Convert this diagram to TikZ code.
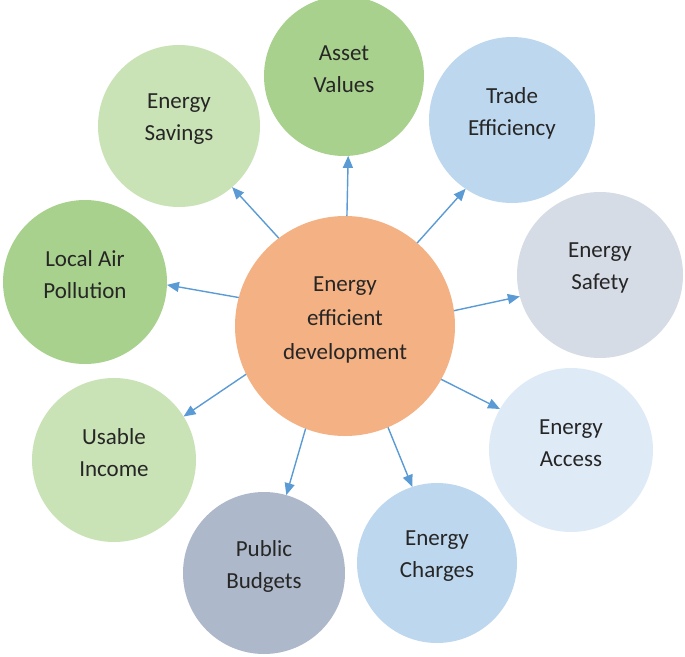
\documentclass[tikz,border=0pt]{standalone}
\usepackage{fontspec}
\setmainfont{Carlito}
\usetikzlibrary{arrows.meta}
\definecolor{cCenter}{HTML}{F4B183}
\definecolor{cGreen}{HTML}{A9D18E}
\definecolor{cLGreen}{HTML}{C9E2B6}
\definecolor{cBlue}{HTML}{BDD7EE}
\definecolor{cLBlue}{HTML}{DEEBF7}
\definecolor{cGrey}{HTML}{D6DCE5}
\definecolor{cSlate}{HTML}{ADB9CA}
\definecolor{cArrow}{HTML}{5B9BD5}
\definecolor{cText}{HTML}{262626}
\tikzset{
  bubble/.style={circle, inner sep=0pt, outer sep=0pt, minimum size=162pt},
  hub/.style={circle, inner sep=0pt, outer sep=0pt, minimum size=220pt, fill=cCenter},
  lbl/.style={align=center, text=cText, font=\fontsize{23}{32}\selectfont},
  hublbl/.style={align=center, text=cText, font=\fontsize{23}{34}\selectfont},
  link/.style={draw=cArrow, line width=1.4pt, -{Triangle[length=12pt,width=10pt]}}
}
\begin{document}
\begin{tikzpicture}[x=1pt,y=-1pt]
\useasboundingbox (0,0) rectangle (685,656);
\begin{scope}
\clip (0,0) rectangle (685,656);
\node[bubble, fill=cLGreen] (sav) at (179,126) {};
\node[bubble, fill=cGreen, minimum size=160pt] (ast) at (344,76) {};
\node[bubble, fill=cBlue, minimum size=166pt] (trd) at (512,120) {};
\node[bubble, fill=cGrey, minimum size=166pt] (saf) at (600,275) {};
\node[bubble, fill=cLBlue, minimum size=164pt] (acc) at (571,450) {};
\node[bubble, fill=cBlue, minimum size=160pt] (chg) at (437,563) {};
\node[bubble, fill=cSlate] (pub) at (264,573) {};
\node[bubble, fill=cLGreen, minimum size=164pt] (inc) at (114,460) {};
\node[bubble, fill=cGreen, minimum size=164pt] (air) at (85,282) {};
\node[hub] (ctr) at (345,326) {};
\end{scope}

\node[lbl] (savT) at ([yshift=7pt]sav.center) {Energy\\Savings};
\node[lbl] (astT) at ([yshift=7pt]ast.center) {Asset\\Values};
\node[lbl] (trdT) at ([yshift=7pt]trd.center) {Trade\\Efficiency};
\node[lbl] (safT) at ([yshift=7pt]saf.center) {Energy\\Safety};
\node[lbl] (accT) at ([yshift=7pt]acc.center) {Energy\\Access};
\node[lbl] (chgT) at ([yshift=7pt]chg.center) {Energy\\Charges};
\node[lbl] (pubT) at ([yshift=7pt]pub.center) {Public\\Budgets};
\node[lbl] (incT) at ([yshift=7pt]inc.center) {Usable\\Income};
\node[lbl] (airT) at ([yshift=7pt]air.center) {Local Air\\Pollution};
\node[hublbl] (ctrT) at ([yshift=6pt]ctr.center) {Energy\\efficient\\development};

\draw[link] (ctr.127.7) -- (sav.-49.5);
\draw[link] (ctr.165) -- (air.-2);
\draw[link] (ctr.89) -- (ast.-87);
\draw[link] (ctr.49.7) -- (trd.-124.6);
\draw[link] (ctr.8.1) -- (saf.195);
\draw[link] (ctr.-29.3) -- (acc.150);
\draw[link] (ctr.-67) -- (chg.108);
\draw[link] (ctr.-111.4) -- (pub.74.3);
\draw[link] (ctr.-154.3) -- (inc.32.5);
\end{tikzpicture}
\end{document}
